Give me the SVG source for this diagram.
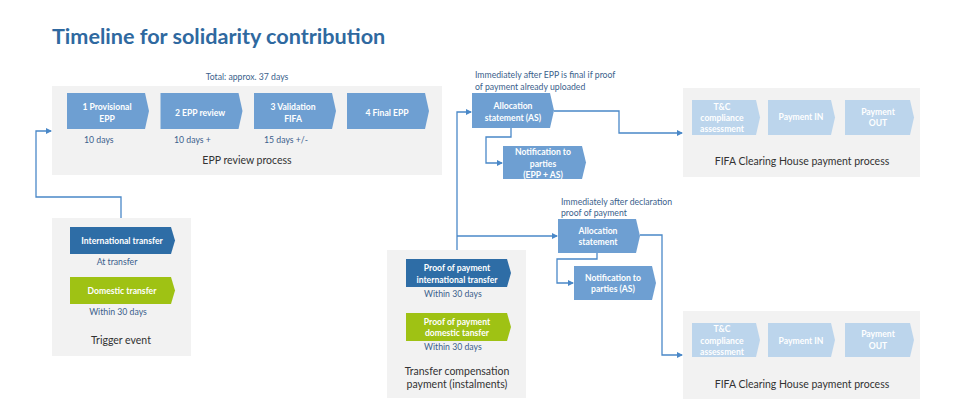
<svg xmlns="http://www.w3.org/2000/svg" width="960" height="420" viewBox="0 0 960 420">
<defs>
<marker id="arr" markerWidth="6" markerHeight="6" refX="5" refY="3" orient="auto" markerUnits="userSpaceOnUse">
<path d="M0,0 L6,3 L0,6 z" fill="#4a88c8"/>
</marker>
<style>
.panel{fill:#f2f2f2}
.mid{fill:#6e9fd2}
.lt{fill:#bcd5ec}
.dk{fill:#2e6da6}
.gr{fill:#9fc214}
.ct{font-family:Lato,"Liberation Sans",sans-serif;font-weight:bold;font-size:8.6px;fill:#fff;text-anchor:middle}
.sm{font-family:Lato,"Liberation Sans",sans-serif;font-size:8.7px;fill:#3b5f8c}
.pt{font-family:Lato,"Liberation Sans",sans-serif;font-size:10.5px;fill:#333;text-anchor:middle}
.ln{fill:none;stroke:#4a88c8;stroke-width:1.3}
</style>
</defs>
<rect width="960" height="420" fill="#fff"/>
<text x="52" y="44" font-family="Lato,'Liberation Sans',sans-serif" font-weight="bold" font-size="21.6" fill="#2f69a0">Timeline for solidarity contribution</text>

<g id="epp-panel">
<rect class="panel" x="52" y="86" width="390" height="89"/>
<text class="sm" x="247" y="80" text-anchor="middle">Total: approx. 37 days</text>
<text class="pt" x="247" y="164">EPP review process</text>
</g>
<g id="epp1"><path class="mid" d="M67,93 h78 l4,18 l-4,18 h-78 z"/><text class="ct" x="107" y="110">1 Provisional</text><text class="ct" x="107" y="122">EPP</text><text class="sm" x="84" y="143">10 days</text></g>
<g id="epp2"><path class="mid" d="M160.5,93 h78 l4,18 l-4,18 h-78 z"/><text class="ct" x="200" y="116">2 EPP review</text><text class="sm" x="174" y="143">10 days +</text></g>
<g id="epp3"><path class="mid" d="M254,93 h78 l4,18 l-4,18 h-78 z"/><text class="ct" x="293" y="110">3 Validation</text><text class="ct" x="293" y="122">FIFA</text><text class="sm" x="264" y="143">15 days +/-</text></g>
<g id="epp4"><path class="mid" d="M347,93 h78 l4,18 l-4,18 h-78 z"/><text class="ct" x="387" y="116">4 Final EPP</text></g>

<g id="trigger">
<rect class="panel" x="52" y="218" width="139" height="138"/>
<path class="dk" d="M70,227 h101 l4,13.5 l-4,13.5 h-101 z"/><text class="ct" x="122" y="244">International transfer</text>
<text class="sm" x="117" y="265" text-anchor="middle">At transfer</text>
<path class="gr" d="M70,277 h101 l4,13.5 l-4,13.5 h-101 z"/><text class="ct" x="122" y="294">Domestic transfer</text>
<text class="sm" x="118" y="315" text-anchor="middle">Within 30 days</text>
<text class="pt" x="121" y="344">Trigger event</text>
</g>

<g id="compensation">
<rect class="panel" x="387" y="250" width="139" height="148"/>
<path class="dk" d="M406,259 h101 l4,14 l-4,14 h-101 z"/><text class="ct" x="457" y="271">Proof of payment</text><text class="ct" x="457" y="283">international transfer</text>
<text class="sm" x="424" y="297">Within 30 days</text>
<path class="gr" d="M406,313 h101 l4,14 l-4,14 h-101 z"/><text class="ct" x="457" y="325">Proof of payment</text><text class="ct" x="457" y="336">domestic tansfer</text>
<text class="sm" x="424" y="350">Within 30 days</text>
<text class="pt" x="457" y="375">Transfer compensation</text>
<text class="pt" x="457" y="388">payment (instalments)</text>
</g>

<g id="alloc1">
<text class="sm" x="475" y="78">Immediately after EPP is final if proof</text>
<text class="sm" x="475" y="90">of payment already uploaded</text>
<path class="mid" d="M472,93 h78 l4,17.5 l-4,17.5 h-78 z"/><text class="ct" x="513" y="109">Allocation</text><text class="ct" x="513" y="121">statement (AS)</text>
</g>
<g id="notif1"><path class="mid" d="M503,146 h79 l4,16.5 l-4,16.5 h-79 z"/><text class="ct" x="543" y="155">Notification to</text><text class="ct" x="543" y="167">parties</text><text class="ct" x="543" y="178">(EPP + AS)</text></g>

<g id="alloc2">
<text class="sm" x="561" y="205">Immediately after declaration</text>
<text class="sm" x="561" y="216">proof of payment</text>
<path class="mid" d="M558,219 h78 l4,17 l-4,17 h-78 z"/><text class="ct" x="598" y="234">Allocation</text><text class="ct" x="598" y="245">statement</text>
</g>
<g id="notif2"><path class="mid" d="M574,266 h78 l4,17 l-4,17 h-78 z"/><text class="ct" x="613" y="281">Notification to</text><text class="ct" x="613" y="292">parties (AS)</text></g>

<g id="fifa1">
<rect class="panel" x="683" y="88" width="237" height="89"/>
<path class="lt" d="M692,100 h64 l4,17.5 l-4,17.5 h-64 z"/><text class="ct" x="722" y="110">T&amp;C</text><text class="ct" x="722" y="121">compliance</text><text class="ct" x="722" y="132">assessment</text>
<path class="lt" d="M768,100 h63 l4,17.5 l-4,17.5 h-63 z"/><text class="ct" x="801" y="120">Payment IN</text>
<path class="lt" d="M845,100 h65 l4,17.5 l-4,17.5 h-65 z"/><text class="ct" x="878" y="115">Payment</text><text class="ct" x="878" y="126">OUT</text>
<text class="pt" x="802" y="165">FIFA Clearing House payment process</text>
</g>
<g id="fifa2">
<rect class="panel" x="683" y="311" width="237" height="88"/>
<path class="lt" d="M692,323 h64 l4,17 l-4,17 h-64 z"/><text class="ct" x="722" y="332">T&amp;C</text><text class="ct" x="722" y="344">compliance</text><text class="ct" x="722" y="355">assessment</text>
<path class="lt" d="M768,323 h63 l4,17 l-4,17 h-63 z"/><text class="ct" x="801" y="344">Payment IN</text>
<path class="lt" d="M845,323 h65 l4,17 l-4,17 h-65 z"/><text class="ct" x="878" y="337">Payment</text><text class="ct" x="878" y="349">OUT</text>
<text class="pt" x="802" y="388">FIFA Clearing House payment process</text>
</g>

<g id="connectors">
<path class="ln" d="M121,218 V197 H36 V131 H51" marker-end="url(#arr)"/>
<path class="ln" d="M457,250 V112 H471" marker-end="url(#arr)"/>
<path class="ln" d="M457,236 H557" marker-end="url(#arr)"/>
<path class="ln" d="M511,128 V137 H486 V163 H502" marker-end="url(#arr)"/>
<path class="ln" d="M554,111 H619 V133 H682" marker-end="url(#arr)"/>
<path class="ln" d="M597,253 V259 H557 V283 H573" marker-end="url(#arr)"/>
<path class="ln" d="M640,235 H662 V355 H682" marker-end="url(#arr)"/>
</g>
</svg>
